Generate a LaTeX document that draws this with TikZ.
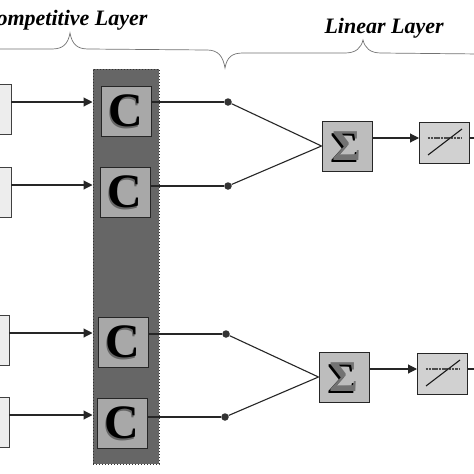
\documentclass[tikz,border=0pt]{standalone}
\usepackage{fontspec}
\setmainfont{Liberation Serif}
\usetikzlibrary{arrows.meta}
\definecolor{colgray}{gray}{0.40}
\definecolor{cgray}{gray}{0.66}
\definecolor{sgray}{gray}{0.74}
\definecolor{lgray}{gray}{0.82}
\definecolor{ingray}{gray}{0.93}
\begin{document}
\begin{tikzpicture}[x=1pt,y=-1pt,
  inbox/.style={draw=black!75, fill=ingray, line width=0.9pt, inner sep=0pt, minimum width=42pt, minimum height=50pt},
  cbox/.style={draw=black!85, fill=cgray, line width=1pt, inner sep=0pt, minimum size=50pt},
  sbox/.style={draw=black!85, fill=sgray, line width=1pt, inner sep=0pt, minimum size=50pt},
  lbox/.style={draw=black!85, fill=lgray, line width=1pt, inner sep=0pt, minimum width=50pt, minimum height=41pt},
  wire/.style={draw=black!85, line width=1.1pt},
  arr/.style={wire, -{Triangle[length=9pt,width=9pt]}},
  dot/.style={circle, fill=black!80, inner sep=0pt, minimum size=7.5pt},
  brace/.style={draw=black!55, line width=0.7pt},
  lbl/.style={font=\bfseries\itshape\fontsize{22}{26}\selectfont},
  bigletter/.style={font=\bfseries\fontsize{48}{48}\selectfont, inner sep=0pt},
]
\useasboundingbox (0,0) rectangle (474,474);
\clip (0,0) rectangle (474,474);
\fill[white] (0,0) rectangle (474,474);

% braces and labels
\draw[brace] (-20,49) -- (52,49) .. controls (63,49) and (68,44) .. (70,33) .. controls (72,44) and (77,49) .. (88,49) -- (207,50) .. controls (218,50) and (223,56) .. (225,68) .. controls (227,57) and (232,53) .. (243,53) -- (345,53) .. controls (356,53) and (361,48) .. (363,40) .. controls (365,48) and (370,53) .. (381,53) -- (480,54);
\node[lbl, anchor=base east] (t1) at (151,25) {Competitive Layer};
\node[lbl, anchor=base west] (t2) at (321,33) {Linear Layer};

% competitive column
\node[draw=black!80, dotted, line width=1pt, fill=colgray, inner sep=0pt, minimum width=66pt, minimum height=395pt] (col) at (126,266.5) {};

% input boxes
\node[inbox] (in1) at (-10,109) {};
\node[inbox] (in2) at (-10,192) {};
\node[inbox] (in3) at (-12,340) {};
\node[inbox] (in4) at (-12,422) {};

% C boxes
\foreach \n/\x/\y in {1/126/111, 2/125/192, 3/123/342, 4/122/423}{
  \node[cbox] (c\n) at (\x,\y) {};
  \node[bigletter, text=black!60] at ([xshift=-1.5pt,yshift=-1.5pt]c\n.center) {C};
  \node[bigletter, text=black] (cl\n) at (c\n.center) {C};
}

% arrows into column
\foreach \n in {1,2,3,4}{
  \draw[arr] ([yshift=7pt]in\n.east) -- ([yshift=7pt]in\n.east -| col.west);
}

% dots
\node[dot] (d1) at (228,102) {};
\node[dot] (d2) at (228,186) {};
\node[dot] (d3) at (226,334) {};
\node[dot] (d4) at (225,417) {};

\draw[wire] ([yshift=9pt]c1.east) -- (d1);
\draw[wire] ([yshift=6pt]c2.east) -- (d2);
\draw[wire] ([yshift=8pt]c3.east) -- (d3);
\draw[wire] ([yshift=6pt]c4.east) -- (d4);

% sum boxes
\node[sbox] (s1) at (347,146) {};
\node[sbox] (s2) at (344,377) {};
\foreach \n in {1,2}{
  \node[bigletter, font=\bfseries\fontsize{44}{44}\selectfont, text=black] at ([xshift=-2pt,yshift=-2pt]s\n.center) {Σ};
  \node[bigletter, font=\bfseries\fontsize{44}{44}\selectfont, text=black!55] at (s\n.center) {Σ};
}
\draw[wire] (d1) -- (s1.west);
\draw[wire] (d2) -- (s1.west);
\draw[wire] (d3) -- (s2.west);
\draw[wire] (d4) -- (s2.west);

% linear boxes
\node[lbox] (l1) at (444.5,142.5) {};
\node[lbox] (l2) at (442.5,373.5) {};
\foreach \n in {1,2}{
  \draw[black!70, line width=1.4pt, dash pattern=on 2.5pt off 0.8pt, shift={(l\n.center)}] (-17,-4.5) -- (17,-4.5);
  \draw[black!90, line width=1.1pt, shift={(l\n.center)}] (-16.5,12.5) -- (17.5,-13.5);
}
\draw[arr] ([yshift=8pt]s1.east) -- ([yshift=8pt]s1.east -| l1.west);
\draw[arr] ([yshift=8pt]s2.east) -- ([yshift=8pt]s2.east -| l2.west);
\coordinate (o1) at (485,138);
\coordinate (o2) at (485,369);
\draw[wire] (l1.east |- o1) -- (o1);
\draw[wire] (l2.east |- o2) -- (o2);
\end{tikzpicture}
\end{document}
